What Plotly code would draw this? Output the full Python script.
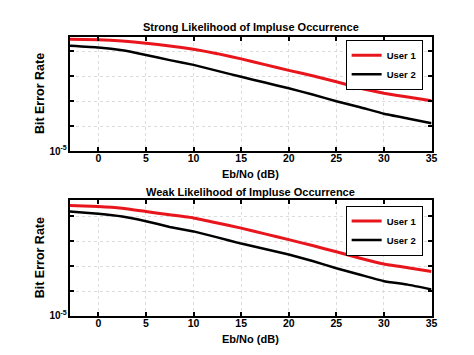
import plotly.graph_objects as go

ebno = [-3, 0, 2.5, 5, 7.5, 10, 12.5, 15, 17.5, 20, 22.5, 25, 27.5, 30, 32.5, 35]
strong_user1 = [0.309, 0.295, 0.263, 0.214, 0.166, 0.123, 0.0813, 0.0501, 0.0295, 0.0174,
                0.0105, 0.00603, 0.00331, 0.00209, 0.00148, 0.00105]
strong_user2 = [0.170, 0.145, 0.112, 0.0724, 0.0447, 0.0288, 0.0166, 0.00955, 0.00562, 0.00331,
                0.00186, 0.00100, 0.000575, 0.000316, 0.000204, 0.000132]
weak_user1 = [0.275, 0.251, 0.214, 0.158, 0.117, 0.0871, 0.0550, 0.0339, 0.0200, 0.0117,
              0.00676, 0.00380, 0.00209, 0.00123, 0.000871, 0.000617]
weak_user2 = [0.158, 0.129, 0.100, 0.0646, 0.0380, 0.0251, 0.0145, 0.00813, 0.00490, 0.00295,
              0.00162, 0.000832, 0.000457, 0.000251, 0.000182, 0.000117]

x_ticks = [0, 5, 10, 15, 20, 25, 30, 35]
y_label_ticks = [1e-5]
y_label_text = ["10<sup>-5</sup>"]
y_grid_ticks = [1e-4, 1e-3, 1e-2, 1e-1]
titles = ["Strong Likelihood of Impluse Occurrence", "Weak Likelihood of Impluse Occurrence"]

FONT = "Liberation Sans, Arial, sans-serif"
GRID = "#dcdcdc"
fig = go.Figure()

def add(x, y, name, color, width, xa, ya, lg):
    fig.add_trace(go.Scatter(x=x, y=y, name=name, mode="lines",
                             line=dict(color=color, width=width, shape="spline", smoothing=0.3),
                             xaxis=xa, yaxis=ya, legend=lg))

add(ebno, strong_user1, "User 1", "#e8161c", 3, "x", "y", "legend")
add(ebno, strong_user2, "User 2", "#000000", 2.5, "x", "y", "legend")
add(ebno, weak_user1, "User 1", "#e8161c", 3, "x2", "y2", "legend2")
add(ebno, weak_user2, "User 2", "#000000", 2.5, "x2", "y2", "legend2")

xax = dict(range=[-3, 35], tickvals=x_ticks, ticks="inside", ticklen=4, tickwidth=1.5,
           tickcolor="black", showline=True, linecolor="black", linewidth=2, mirror="allticks",
           showgrid=True, gridcolor=GRID, griddash="dot", gridwidth=1, zeroline=False,
           ticklabelstandoff=-4,
           tickfont=dict(family=FONT, size=10.5, color="black", weight="bold"))
yax = dict(type="log", tickvals=y_label_ticks, ticktext=y_label_text, ticks="inside", ticklen=4,
           tickwidth=1.5, tickcolor="black", showline=True, linecolor="black", linewidth=2,
           mirror="allticks", showgrid=False, zeroline=False, ticklabelstandoff=-1,
           minor=dict(tickvals=y_grid_ticks, ticks="inside", ticklen=4, tickwidth=1.5,
                      tickcolor="black", showgrid=True, gridcolor=GRID, griddash="dot", gridwidth=1),
           tickfont=dict(family=FONT, size=10, color="black", weight="bold"))

legend_style = dict(bgcolor="white", bordercolor="black", borderwidth=1,
                    font=dict(family=FONT, size=9.5, color="black", weight="bold"),
                    xanchor="right", yanchor="top", tracegroupgap=0, itemwidth=30)

fig.update_layout(
    width=474, height=355, margin=dict(l=0, r=0, t=0, b=0),
    paper_bgcolor="white", plot_bgcolor="white",
    xaxis=dict(**xax, domain=[0.132, 0.905], anchor="y"),
    yaxis=dict(**yax, range=[-5, -0.42], domain=[0.590, 0.917], anchor="x"),
    xaxis2=dict(**xax, domain=[0.132, 0.905], anchor="y2"),
    yaxis2=dict(**yax, range=[-5, -0.35], domain=[0.1175, 0.449], anchor="x2"),
    legend=dict(**legend_style, x=0.886, y=0.909),
    legend2=dict(**legend_style, x=0.886, y=0.434),
    showlegend=True,
)

ann = []
for title, ytit, ymid, ylab in [(titles[0], 19, 87, 169), (titles[1], 187, 254, 337)]:
    ann.append(dict(text=title, x=246, y=ytit, showarrow=False, size=11))
    ann.append(dict(text="Bit Error Rate", x=32, y=ymid, textangle=-90, showarrow=False, size=12.5))
    ann.append(dict(text="Eb/No (dB)", x=246, y=ylab, showarrow=False, size=11))
for a in ann:
    s = a.pop("size")
    a.update(xref="paper", yref="paper", x=a["x"] / 474, y=1 - a["y"] / 355,
             xanchor="center", yanchor="middle",
             font=dict(family=FONT, size=s, color="black", weight="bold"))
fig.update_layout(annotations=ann)

fig.write_html("out.html")
